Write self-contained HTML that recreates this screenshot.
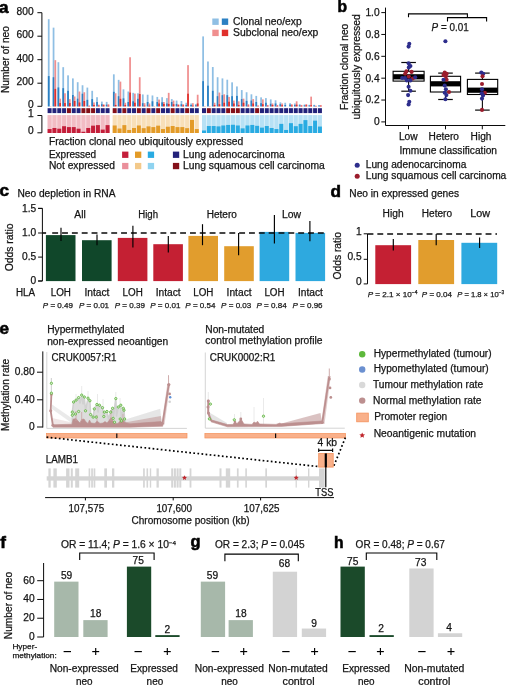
<!DOCTYPE html>
<html><head><meta charset="utf-8"><title>Figure</title>
<style>
html,body{margin:0;padding:0;background:#fff;}
body{width:508px;height:685px;overflow:hidden;}
svg{display:block;font-family:"Liberation Sans",sans-serif;}
text{stroke:#151515;stroke-width:0.25px;}
text.b{stroke:#000;stroke-width:0.55px;}
</style></head><body>
<svg width="508" height="685" viewBox="0 0 508 685">
<rect x="0" y="0" width="508" height="685" fill="#ffffff"/>
<text x="-1.00" y="13.40" font-size="15.6" text-anchor="start" textLength="9.54" lengthAdjust="spacingAndGlyphs" fill="#000" font-weight="bold" class="b">a</text>
<path d="M37.4 12.7H41.9V106.3H37.4" stroke="#0a0a0a" stroke-width="1.0" fill="none" />
<line x1="37.40" y1="36.20" x2="41.90" y2="36.20" stroke="#0a0a0a" stroke-width="1.0" />
<line x1="37.40" y1="59.70" x2="41.90" y2="59.70" stroke="#0a0a0a" stroke-width="1.0" />
<line x1="37.40" y1="83.20" x2="41.90" y2="83.20" stroke="#0a0a0a" stroke-width="1.0" />
<text x="33.60" y="14.70" font-size="10.0" text-anchor="end" textLength="17.02" lengthAdjust="spacingAndGlyphs" fill="#151515">800</text>
<text x="33.60" y="38.20" font-size="10.0" text-anchor="end" textLength="17.02" lengthAdjust="spacingAndGlyphs" fill="#151515">600</text>
<text x="33.60" y="61.70" font-size="10.0" text-anchor="end" textLength="17.02" lengthAdjust="spacingAndGlyphs" fill="#151515">400</text>
<text x="33.60" y="85.20" font-size="10.0" text-anchor="end" textLength="17.02" lengthAdjust="spacingAndGlyphs" fill="#151515">200</text>
<text x="33.60" y="108.30" font-size="10.0" text-anchor="end" textLength="5.67" lengthAdjust="spacingAndGlyphs" fill="#151515">0</text>
<text x="9.40" y="59.60" font-size="10.0" text-anchor="middle" textLength="66.80" lengthAdjust="spacingAndGlyphs" fill="#151515" transform="rotate(-90 9.40 59.60)">Number of neo</text>
<path d="M37.4 115.5H41.9V132.8H37.4" stroke="#0a0a0a" stroke-width="1.0" fill="none" />
<text x="33.60" y="117.30" font-size="10.0" text-anchor="end" textLength="5.67" lengthAdjust="spacingAndGlyphs" fill="#151515">1</text>
<text x="33.60" y="134.30" font-size="10.0" text-anchor="end" textLength="5.67" lengthAdjust="spacingAndGlyphs" fill="#151515">0</text>
<rect x="47.60" y="115.10" width="61.96" height="17.90" fill="#f2bcc4" opacity="0.4"/>
<rect x="47.85" y="19.19" width="1.75" height="87.21" fill="#8fbfe4" />
<rect x="47.85" y="76.07" width="1.75" height="30.33" fill="#2b80c3" />
<rect x="49.60" y="106.11" width="1.75" height="0.29" fill="#f08f8f" />
<rect x="47.60" y="108.20" width="4.00" height="4.90" fill="#23227a" />
<rect x="47.60" y="115.10" width="4.00" height="17.90" fill="#f2bcc4" />
<rect x="47.60" y="129.06" width="4.00" height="3.94" fill="#c41e3a" />
<rect x="52.68" y="27.65" width="1.75" height="78.75" fill="#8fbfe4" />
<rect x="52.68" y="77.23" width="1.75" height="29.17" fill="#2b80c3" />
<rect x="54.43" y="60.17" width="1.75" height="46.23" fill="#f08f8f" />
<rect x="54.43" y="88.90" width="1.75" height="17.50" fill="#e0302c" />
<rect x="52.43" y="108.20" width="4.00" height="4.90" fill="#23227a" />
<rect x="52.43" y="115.10" width="4.00" height="17.90" fill="#f2bcc4" />
<rect x="52.43" y="127.99" width="4.00" height="5.01" fill="#c41e3a" />
<rect x="57.51" y="62.21" width="1.75" height="44.19" fill="#8fbfe4" />
<rect x="57.51" y="87.44" width="1.75" height="18.96" fill="#2b80c3" />
<rect x="59.26" y="98.67" width="1.75" height="7.73" fill="#f08f8f" />
<rect x="59.26" y="103.05" width="1.75" height="3.35" fill="#e0302c" />
<rect x="57.26" y="108.20" width="4.00" height="4.90" fill="#23227a" />
<rect x="57.26" y="115.10" width="4.00" height="17.90" fill="#f2bcc4" />
<rect x="57.26" y="128.70" width="4.00" height="4.30" fill="#c41e3a" />
<rect x="62.34" y="67.17" width="1.75" height="39.23" fill="#8fbfe4" />
<rect x="62.34" y="88.17" width="1.75" height="18.23" fill="#2b80c3" />
<rect x="64.09" y="93.27" width="1.75" height="13.13" fill="#f08f8f" />
<rect x="64.09" y="103.05" width="1.75" height="3.35" fill="#e0302c" />
<rect x="62.09" y="108.20" width="4.00" height="4.90" fill="#23227a" />
<rect x="62.09" y="115.10" width="4.00" height="17.90" fill="#f2bcc4" />
<rect x="62.09" y="126.20" width="4.00" height="6.80" fill="#c41e3a" />
<rect x="67.17" y="75.34" width="1.75" height="31.06" fill="#8fbfe4" />
<rect x="67.17" y="90.80" width="1.75" height="15.60" fill="#2b80c3" />
<rect x="68.92" y="99.11" width="1.75" height="7.29" fill="#f08f8f" />
<rect x="68.92" y="103.05" width="1.75" height="3.35" fill="#e0302c" />
<rect x="66.92" y="108.20" width="4.00" height="4.90" fill="#84101a" />
<rect x="66.92" y="115.10" width="4.00" height="17.90" fill="#f2bcc4" />
<rect x="66.92" y="127.09" width="4.00" height="5.91" fill="#c41e3a" />
<rect x="72.00" y="78.40" width="1.75" height="28.00" fill="#8fbfe4" />
<rect x="72.00" y="95.02" width="1.75" height="11.38" fill="#2b80c3" />
<rect x="73.75" y="96.48" width="1.75" height="9.92" fill="#f08f8f" />
<rect x="73.75" y="101.00" width="1.75" height="5.40" fill="#e0302c" />
<rect x="71.75" y="108.20" width="4.00" height="4.90" fill="#23227a" />
<rect x="71.75" y="115.10" width="4.00" height="17.90" fill="#f2bcc4" />
<rect x="71.75" y="127.09" width="4.00" height="5.91" fill="#c41e3a" />
<rect x="76.83" y="82.19" width="1.75" height="24.21" fill="#8fbfe4" />
<rect x="76.83" y="98.67" width="1.75" height="7.73" fill="#2b80c3" />
<rect x="78.58" y="91.52" width="1.75" height="14.88" fill="#f08f8f" />
<rect x="78.58" y="102.46" width="1.75" height="3.94" fill="#e0302c" />
<rect x="76.58" y="108.20" width="4.00" height="4.90" fill="#23227a" />
<rect x="76.58" y="115.10" width="4.00" height="17.90" fill="#f2bcc4" />
<rect x="76.58" y="128.70" width="4.00" height="4.30" fill="#c41e3a" />
<rect x="81.66" y="85.25" width="1.75" height="21.15" fill="#8fbfe4" />
<rect x="81.66" y="93.71" width="1.75" height="12.69" fill="#2b80c3" />
<rect x="83.41" y="92.25" width="1.75" height="14.15" fill="#f08f8f" />
<rect x="83.41" y="101.00" width="1.75" height="5.40" fill="#e0302c" />
<rect x="81.41" y="108.20" width="4.00" height="4.90" fill="#84101a" />
<rect x="81.41" y="115.10" width="4.00" height="17.90" fill="#f2bcc4" />
<rect x="81.41" y="131.75" width="4.00" height="1.25" fill="#c41e3a" />
<rect x="86.49" y="87.59" width="1.75" height="18.81" fill="#8fbfe4" />
<rect x="86.49" y="99.84" width="1.75" height="6.56" fill="#2b80c3" />
<rect x="88.24" y="105.38" width="1.75" height="1.02" fill="#f08f8f" />
<rect x="88.24" y="106.11" width="1.75" height="0.29" fill="#e0302c" />
<rect x="86.24" y="108.20" width="4.00" height="4.90" fill="#84101a" />
<rect x="86.24" y="115.10" width="4.00" height="17.90" fill="#f2bcc4" />
<rect x="86.24" y="127.99" width="4.00" height="5.01" fill="#c41e3a" />
<rect x="91.32" y="90.80" width="1.75" height="15.60" fill="#8fbfe4" />
<rect x="91.32" y="99.11" width="1.75" height="7.29" fill="#2b80c3" />
<rect x="93.07" y="102.46" width="1.75" height="3.94" fill="#f08f8f" />
<rect x="93.07" y="104.94" width="1.75" height="1.46" fill="#e0302c" />
<rect x="91.07" y="108.20" width="4.00" height="4.90" fill="#84101a" />
<rect x="91.07" y="115.10" width="4.00" height="17.90" fill="#f2bcc4" />
<rect x="91.07" y="125.66" width="4.00" height="7.34" fill="#c41e3a" />
<rect x="96.15" y="97.21" width="1.75" height="9.19" fill="#8fbfe4" />
<rect x="96.15" y="102.02" width="1.75" height="4.38" fill="#2b80c3" />
<rect x="97.90" y="104.65" width="1.75" height="1.75" fill="#f08f8f" />
<rect x="97.90" y="105.67" width="1.75" height="0.73" fill="#e0302c" />
<rect x="95.90" y="108.20" width="4.00" height="4.90" fill="#23227a" />
<rect x="95.90" y="115.10" width="4.00" height="17.90" fill="#f2bcc4" />
<rect x="95.90" y="125.12" width="4.00" height="7.88" fill="#c41e3a" />
<rect x="100.98" y="101.59" width="1.75" height="4.81" fill="#8fbfe4" />
<rect x="100.98" y="104.21" width="1.75" height="2.19" fill="#2b80c3" />
<rect x="102.73" y="104.21" width="1.75" height="2.19" fill="#f08f8f" />
<rect x="102.73" y="105.23" width="1.75" height="1.17" fill="#e0302c" />
<rect x="100.73" y="108.20" width="4.00" height="4.90" fill="#23227a" />
<rect x="100.73" y="115.10" width="4.00" height="17.90" fill="#f2bcc4" />
<rect x="100.73" y="129.60" width="4.00" height="3.40" fill="#c41e3a" />
<rect x="105.81" y="101.88" width="1.75" height="4.52" fill="#8fbfe4" />
<rect x="105.81" y="104.65" width="1.75" height="1.75" fill="#2b80c3" />
<rect x="107.56" y="104.21" width="1.75" height="2.19" fill="#f08f8f" />
<rect x="107.56" y="105.67" width="1.75" height="0.73" fill="#e0302c" />
<rect x="105.56" y="108.20" width="4.00" height="4.90" fill="#23227a" />
<rect x="105.56" y="115.10" width="4.00" height="17.90" fill="#f2bcc4" />
<rect x="105.56" y="125.12" width="4.00" height="7.88" fill="#c41e3a" />
<rect x="112.70" y="115.10" width="86.11" height="17.90" fill="#f8dfb8" opacity="0.4"/>
<rect x="112.95" y="74.32" width="1.75" height="32.08" fill="#8fbfe4" />
<rect x="112.95" y="91.82" width="1.75" height="14.58" fill="#2b80c3" />
<rect x="114.70" y="93.27" width="1.75" height="13.13" fill="#f08f8f" />
<rect x="114.70" y="104.94" width="1.75" height="1.46" fill="#e0302c" />
<rect x="112.70" y="108.20" width="4.00" height="4.90" fill="#84101a" />
<rect x="112.70" y="115.10" width="4.00" height="17.90" fill="#f8dfb8" />
<rect x="112.70" y="125.48" width="4.00" height="7.52" fill="#e39b28" />
<rect x="117.78" y="79.86" width="1.75" height="26.54" fill="#8fbfe4" />
<rect x="117.78" y="96.19" width="1.75" height="10.21" fill="#2b80c3" />
<rect x="119.53" y="81.61" width="1.75" height="24.79" fill="#f08f8f" />
<rect x="119.53" y="98.82" width="1.75" height="7.58" fill="#e0302c" />
<rect x="117.53" y="108.20" width="4.00" height="4.90" fill="#23227a" />
<rect x="117.53" y="115.10" width="4.00" height="17.90" fill="#f8dfb8" />
<rect x="117.53" y="128.53" width="4.00" height="4.47" fill="#e39b28" />
<rect x="122.61" y="89.34" width="1.75" height="17.06" fill="#8fbfe4" />
<rect x="122.61" y="98.38" width="1.75" height="8.02" fill="#2b80c3" />
<rect x="124.36" y="102.75" width="1.75" height="3.65" fill="#f08f8f" />
<rect x="124.36" y="104.94" width="1.75" height="1.46" fill="#e0302c" />
<rect x="122.36" y="108.20" width="4.00" height="4.90" fill="#84101a" />
<rect x="122.36" y="115.10" width="4.00" height="17.90" fill="#f8dfb8" />
<rect x="122.36" y="125.12" width="4.00" height="7.88" fill="#e39b28" />
<rect x="127.44" y="91.52" width="1.75" height="14.88" fill="#8fbfe4" />
<rect x="127.44" y="102.02" width="1.75" height="4.38" fill="#2b80c3" />
<rect x="129.19" y="57.25" width="1.75" height="49.15" fill="#f08f8f" />
<rect x="129.19" y="92.55" width="1.75" height="13.85" fill="#e0302c" />
<rect x="127.19" y="108.20" width="4.00" height="4.90" fill="#23227a" />
<rect x="127.19" y="115.10" width="4.00" height="17.90" fill="#f8dfb8" />
<rect x="127.19" y="129.96" width="4.00" height="3.04" fill="#e39b28" />
<rect x="132.27" y="92.84" width="1.75" height="13.56" fill="#8fbfe4" />
<rect x="132.27" y="101.30" width="1.75" height="5.10" fill="#2b80c3" />
<rect x="134.02" y="93.57" width="1.75" height="12.83" fill="#f08f8f" />
<rect x="134.02" y="102.75" width="1.75" height="3.65" fill="#e0302c" />
<rect x="132.02" y="108.20" width="4.00" height="4.90" fill="#23227a" />
<rect x="132.02" y="115.10" width="4.00" height="17.90" fill="#f8dfb8" />
<rect x="132.02" y="127.99" width="4.00" height="5.01" fill="#e39b28" />
<rect x="137.10" y="93.27" width="1.75" height="13.13" fill="#8fbfe4" />
<rect x="137.10" y="98.82" width="1.75" height="7.58" fill="#2b80c3" />
<rect x="138.85" y="77.23" width="1.75" height="29.17" fill="#f08f8f" />
<rect x="138.85" y="94.00" width="1.75" height="12.40" fill="#e0302c" />
<rect x="136.85" y="108.20" width="4.00" height="4.90" fill="#84101a" />
<rect x="136.85" y="115.10" width="4.00" height="17.90" fill="#f8dfb8" />
<rect x="136.85" y="125.48" width="4.00" height="7.52" fill="#e39b28" />
<rect x="141.93" y="94.44" width="1.75" height="11.96" fill="#8fbfe4" />
<rect x="141.93" y="103.19" width="1.75" height="3.21" fill="#2b80c3" />
<rect x="143.68" y="103.19" width="1.75" height="3.21" fill="#f08f8f" />
<rect x="143.68" y="105.67" width="1.75" height="0.73" fill="#e0302c" />
<rect x="141.68" y="108.20" width="4.00" height="4.90" fill="#23227a" />
<rect x="141.68" y="115.10" width="4.00" height="17.90" fill="#f8dfb8" />
<rect x="141.68" y="128.17" width="4.00" height="4.83" fill="#e39b28" />
<rect x="146.76" y="94.73" width="1.75" height="11.67" fill="#8fbfe4" />
<rect x="146.76" y="102.02" width="1.75" height="4.38" fill="#2b80c3" />
<rect x="148.51" y="103.48" width="1.75" height="2.92" fill="#f08f8f" />
<rect x="148.51" y="105.67" width="1.75" height="0.73" fill="#e0302c" />
<rect x="146.51" y="108.20" width="4.00" height="4.90" fill="#84101a" />
<rect x="146.51" y="115.10" width="4.00" height="17.90" fill="#f8dfb8" />
<rect x="146.51" y="126.38" width="4.00" height="6.62" fill="#e39b28" />
<rect x="151.59" y="95.46" width="1.75" height="10.94" fill="#8fbfe4" />
<rect x="151.59" y="101.30" width="1.75" height="5.10" fill="#2b80c3" />
<rect x="153.34" y="105.96" width="1.75" height="0.44" fill="#f08f8f" />
<rect x="151.34" y="108.20" width="4.00" height="4.90" fill="#23227a" />
<rect x="151.34" y="115.10" width="4.00" height="17.90" fill="#f8dfb8" />
<rect x="151.34" y="127.09" width="4.00" height="5.91" fill="#e39b28" />
<rect x="156.42" y="96.92" width="1.75" height="9.48" fill="#8fbfe4" />
<rect x="156.42" y="102.02" width="1.75" height="4.38" fill="#2b80c3" />
<rect x="158.17" y="99.55" width="1.75" height="6.85" fill="#f08f8f" />
<rect x="158.17" y="103.48" width="1.75" height="2.92" fill="#e0302c" />
<rect x="156.17" y="108.20" width="4.00" height="4.90" fill="#84101a" />
<rect x="156.17" y="115.10" width="4.00" height="17.90" fill="#f8dfb8" />
<rect x="156.17" y="125.66" width="4.00" height="7.34" fill="#e39b28" />
<rect x="161.25" y="97.21" width="1.75" height="9.19" fill="#8fbfe4" />
<rect x="161.25" y="102.32" width="1.75" height="4.08" fill="#2b80c3" />
<rect x="163.00" y="102.02" width="1.75" height="4.38" fill="#f08f8f" />
<rect x="163.00" y="103.92" width="1.75" height="2.48" fill="#e0302c" />
<rect x="161.00" y="108.20" width="4.00" height="4.90" fill="#23227a" />
<rect x="161.00" y="115.10" width="4.00" height="17.90" fill="#f8dfb8" />
<rect x="161.00" y="129.06" width="4.00" height="3.94" fill="#e39b28" />
<rect x="166.08" y="98.09" width="1.75" height="8.31" fill="#8fbfe4" />
<rect x="166.08" y="103.48" width="1.75" height="2.92" fill="#2b80c3" />
<rect x="167.83" y="92.84" width="1.75" height="13.56" fill="#f08f8f" />
<rect x="167.83" y="103.92" width="1.75" height="2.48" fill="#e0302c" />
<rect x="165.83" y="108.20" width="4.00" height="4.90" fill="#23227a" />
<rect x="165.83" y="115.10" width="4.00" height="17.90" fill="#f8dfb8" />
<rect x="165.83" y="126.73" width="4.00" height="6.26" fill="#e39b28" />
<rect x="170.91" y="99.11" width="1.75" height="7.29" fill="#8fbfe4" />
<rect x="170.91" y="102.02" width="1.75" height="4.38" fill="#2b80c3" />
<rect x="172.66" y="100.57" width="1.75" height="5.83" fill="#f08f8f" />
<rect x="172.66" y="104.21" width="1.75" height="2.19" fill="#e0302c" />
<rect x="170.66" y="108.20" width="4.00" height="4.90" fill="#84101a" />
<rect x="170.66" y="115.10" width="4.00" height="17.90" fill="#f8dfb8" />
<rect x="170.66" y="126.02" width="4.00" height="6.98" fill="#e39b28" />
<rect x="175.74" y="100.57" width="1.75" height="5.83" fill="#8fbfe4" />
<rect x="175.74" y="103.92" width="1.75" height="2.48" fill="#2b80c3" />
<rect x="177.49" y="104.21" width="1.75" height="2.19" fill="#f08f8f" />
<rect x="177.49" y="105.23" width="1.75" height="1.17" fill="#e0302c" />
<rect x="175.49" y="108.20" width="4.00" height="4.90" fill="#23227a" />
<rect x="175.49" y="115.10" width="4.00" height="17.90" fill="#f8dfb8" />
<rect x="175.49" y="127.09" width="4.00" height="5.91" fill="#e39b28" />
<rect x="180.57" y="101.00" width="1.75" height="5.40" fill="#8fbfe4" />
<rect x="180.57" y="104.21" width="1.75" height="2.19" fill="#2b80c3" />
<rect x="182.32" y="104.21" width="1.75" height="2.19" fill="#f08f8f" />
<rect x="182.32" y="105.38" width="1.75" height="1.02" fill="#e0302c" />
<rect x="180.32" y="108.20" width="4.00" height="4.90" fill="#23227a" />
<rect x="180.32" y="115.10" width="4.00" height="17.90" fill="#f8dfb8" />
<rect x="180.32" y="127.09" width="4.00" height="5.91" fill="#e39b28" />
<rect x="185.40" y="102.75" width="1.75" height="3.65" fill="#8fbfe4" />
<rect x="185.40" y="104.94" width="1.75" height="1.46" fill="#2b80c3" />
<rect x="187.15" y="65.13" width="1.75" height="41.27" fill="#f08f8f" />
<rect x="187.15" y="93.71" width="1.75" height="12.69" fill="#e0302c" />
<rect x="185.15" y="108.20" width="4.00" height="4.90" fill="#84101a" />
<rect x="185.15" y="115.10" width="4.00" height="17.90" fill="#f8dfb8" />
<rect x="185.15" y="128.17" width="4.00" height="4.83" fill="#e39b28" />
<rect x="190.23" y="103.48" width="1.75" height="2.92" fill="#8fbfe4" />
<rect x="190.23" y="104.94" width="1.75" height="1.46" fill="#2b80c3" />
<rect x="191.98" y="103.19" width="1.75" height="3.21" fill="#f08f8f" />
<rect x="191.98" y="105.67" width="1.75" height="0.73" fill="#e0302c" />
<rect x="189.98" y="108.20" width="4.00" height="4.90" fill="#23227a" />
<rect x="189.98" y="115.10" width="4.00" height="17.90" fill="#f8dfb8" />
<rect x="189.98" y="119.93" width="4.00" height="13.07" fill="#e39b28" />
<rect x="195.06" y="103.92" width="1.75" height="2.48" fill="#8fbfe4" />
<rect x="195.06" y="105.23" width="1.75" height="1.17" fill="#2b80c3" />
<rect x="196.81" y="94.73" width="1.75" height="11.67" fill="#f08f8f" />
<rect x="196.81" y="103.48" width="1.75" height="2.92" fill="#e0302c" />
<rect x="194.81" y="108.20" width="4.00" height="4.90" fill="#23227a" />
<rect x="194.81" y="115.10" width="4.00" height="17.90" fill="#f8dfb8" />
<rect x="194.81" y="129.06" width="4.00" height="3.94" fill="#e39b28" />
<rect x="202.00" y="115.10" width="119.92" height="17.90" fill="#b7e1f5" opacity="0.4"/>
<rect x="202.25" y="36.40" width="1.75" height="70.00" fill="#8fbfe4" />
<rect x="202.25" y="81.17" width="1.75" height="25.23" fill="#2b80c3" />
<rect x="204.00" y="105.96" width="1.75" height="0.44" fill="#f08f8f" />
<rect x="202.00" y="108.20" width="4.00" height="4.90" fill="#23227a" />
<rect x="202.00" y="115.10" width="4.00" height="17.90" fill="#b7e1f5" />
<rect x="202.00" y="130.49" width="4.00" height="2.51" fill="#29abe2" />
<rect x="207.08" y="61.48" width="1.75" height="44.92" fill="#8fbfe4" />
<rect x="207.08" y="85.69" width="1.75" height="20.71" fill="#2b80c3" />
<rect x="208.83" y="105.96" width="1.75" height="0.44" fill="#f08f8f" />
<rect x="206.83" y="108.20" width="4.00" height="4.90" fill="#84101a" />
<rect x="206.83" y="115.10" width="4.00" height="17.90" fill="#b7e1f5" />
<rect x="206.83" y="126.02" width="4.00" height="6.98" fill="#29abe2" />
<rect x="211.91" y="67.02" width="1.75" height="39.38" fill="#8fbfe4" />
<rect x="211.91" y="90.80" width="1.75" height="15.60" fill="#2b80c3" />
<rect x="213.66" y="102.75" width="1.75" height="3.65" fill="#f08f8f" />
<rect x="213.66" y="104.94" width="1.75" height="1.46" fill="#e0302c" />
<rect x="211.66" y="108.20" width="4.00" height="4.90" fill="#23227a" />
<rect x="211.66" y="115.10" width="4.00" height="17.90" fill="#b7e1f5" />
<rect x="211.66" y="126.02" width="4.00" height="6.98" fill="#29abe2" />
<rect x="216.74" y="77.23" width="1.75" height="29.17" fill="#8fbfe4" />
<rect x="216.74" y="96.19" width="1.75" height="10.21" fill="#2b80c3" />
<rect x="218.49" y="92.55" width="1.75" height="13.85" fill="#f08f8f" />
<rect x="218.49" y="104.21" width="1.75" height="2.19" fill="#e0302c" />
<rect x="216.49" y="108.20" width="4.00" height="4.90" fill="#23227a" />
<rect x="216.49" y="115.10" width="4.00" height="17.90" fill="#b7e1f5" />
<rect x="216.49" y="126.38" width="4.00" height="6.62" fill="#29abe2" />
<rect x="221.57" y="78.40" width="1.75" height="28.00" fill="#8fbfe4" />
<rect x="221.57" y="95.17" width="1.75" height="11.23" fill="#2b80c3" />
<rect x="223.32" y="94.30" width="1.75" height="12.10" fill="#f08f8f" />
<rect x="223.32" y="102.75" width="1.75" height="3.65" fill="#e0302c" />
<rect x="221.32" y="108.20" width="4.00" height="4.90" fill="#23227a" />
<rect x="221.32" y="115.10" width="4.00" height="17.90" fill="#b7e1f5" />
<rect x="221.32" y="125.48" width="4.00" height="7.52" fill="#29abe2" />
<rect x="226.40" y="79.71" width="1.75" height="26.69" fill="#8fbfe4" />
<rect x="226.40" y="95.17" width="1.75" height="11.23" fill="#2b80c3" />
<rect x="228.15" y="96.92" width="1.75" height="9.48" fill="#f08f8f" />
<rect x="228.15" y="101.73" width="1.75" height="4.67" fill="#e0302c" />
<rect x="226.15" y="108.20" width="4.00" height="4.90" fill="#84101a" />
<rect x="226.15" y="115.10" width="4.00" height="17.90" fill="#b7e1f5" />
<rect x="226.15" y="124.94" width="4.00" height="8.05" fill="#29abe2" />
<rect x="231.23" y="82.34" width="1.75" height="24.06" fill="#8fbfe4" />
<rect x="231.23" y="96.19" width="1.75" height="10.21" fill="#2b80c3" />
<rect x="232.98" y="100.57" width="1.75" height="5.83" fill="#f08f8f" />
<rect x="232.98" y="103.48" width="1.75" height="2.92" fill="#e0302c" />
<rect x="230.98" y="108.20" width="4.00" height="4.90" fill="#84101a" />
<rect x="230.98" y="115.10" width="4.00" height="17.90" fill="#b7e1f5" />
<rect x="230.98" y="124.77" width="4.00" height="8.23" fill="#29abe2" />
<rect x="236.06" y="86.42" width="1.75" height="19.98" fill="#8fbfe4" />
<rect x="236.06" y="95.90" width="1.75" height="10.50" fill="#2b80c3" />
<rect x="237.81" y="101.30" width="1.75" height="5.10" fill="#f08f8f" />
<rect x="237.81" y="104.94" width="1.75" height="1.46" fill="#e0302c" />
<rect x="235.81" y="108.20" width="4.00" height="4.90" fill="#84101a" />
<rect x="235.81" y="115.10" width="4.00" height="17.90" fill="#b7e1f5" />
<rect x="235.81" y="125.48" width="4.00" height="7.52" fill="#29abe2" />
<rect x="240.89" y="90.07" width="1.75" height="16.33" fill="#8fbfe4" />
<rect x="240.89" y="99.11" width="1.75" height="7.29" fill="#2b80c3" />
<rect x="242.64" y="98.67" width="1.75" height="7.73" fill="#f08f8f" />
<rect x="242.64" y="102.75" width="1.75" height="3.65" fill="#e0302c" />
<rect x="240.64" y="108.20" width="4.00" height="4.90" fill="#23227a" />
<rect x="240.64" y="115.10" width="4.00" height="17.90" fill="#b7e1f5" />
<rect x="240.64" y="128.35" width="4.00" height="4.65" fill="#29abe2" />
<rect x="245.72" y="92.25" width="1.75" height="14.15" fill="#8fbfe4" />
<rect x="245.72" y="100.86" width="1.75" height="5.54" fill="#2b80c3" />
<rect x="247.47" y="104.21" width="1.75" height="2.19" fill="#f08f8f" />
<rect x="247.47" y="105.67" width="1.75" height="0.73" fill="#e0302c" />
<rect x="245.47" y="108.20" width="4.00" height="4.90" fill="#23227a" />
<rect x="245.47" y="115.10" width="4.00" height="17.90" fill="#b7e1f5" />
<rect x="245.47" y="125.48" width="4.00" height="7.52" fill="#29abe2" />
<rect x="250.55" y="94.30" width="1.75" height="12.10" fill="#8fbfe4" />
<rect x="250.55" y="100.57" width="1.75" height="5.83" fill="#2b80c3" />
<rect x="252.30" y="99.11" width="1.75" height="7.29" fill="#f08f8f" />
<rect x="252.30" y="103.48" width="1.75" height="2.92" fill="#e0302c" />
<rect x="250.30" y="108.20" width="4.00" height="4.90" fill="#23227a" />
<rect x="250.30" y="115.10" width="4.00" height="17.90" fill="#b7e1f5" />
<rect x="250.30" y="124.94" width="4.00" height="8.05" fill="#29abe2" />
<rect x="255.38" y="95.90" width="1.75" height="10.50" fill="#8fbfe4" />
<rect x="255.38" y="102.02" width="1.75" height="4.38" fill="#2b80c3" />
<rect x="257.13" y="105.23" width="1.75" height="1.17" fill="#f08f8f" />
<rect x="257.13" y="106.11" width="1.75" height="0.29" fill="#e0302c" />
<rect x="255.13" y="108.20" width="4.00" height="4.90" fill="#84101a" />
<rect x="255.13" y="115.10" width="4.00" height="17.90" fill="#b7e1f5" />
<rect x="255.13" y="125.84" width="4.00" height="7.16" fill="#29abe2" />
<rect x="260.21" y="97.36" width="1.75" height="9.04" fill="#8fbfe4" />
<rect x="260.21" y="103.19" width="1.75" height="3.21" fill="#2b80c3" />
<rect x="261.96" y="99.40" width="1.75" height="7.00" fill="#f08f8f" />
<rect x="261.96" y="104.21" width="1.75" height="2.19" fill="#e0302c" />
<rect x="259.96" y="108.20" width="4.00" height="4.90" fill="#23227a" />
<rect x="259.96" y="115.10" width="4.00" height="17.90" fill="#b7e1f5" />
<rect x="259.96" y="127.63" width="4.00" height="5.37" fill="#29abe2" />
<rect x="265.04" y="98.09" width="1.75" height="8.31" fill="#8fbfe4" />
<rect x="265.04" y="102.75" width="1.75" height="3.65" fill="#2b80c3" />
<rect x="266.79" y="104.94" width="1.75" height="1.46" fill="#f08f8f" />
<rect x="266.79" y="105.82" width="1.75" height="0.58" fill="#e0302c" />
<rect x="264.79" y="108.20" width="4.00" height="4.90" fill="#23227a" />
<rect x="264.79" y="115.10" width="4.00" height="17.90" fill="#b7e1f5" />
<rect x="264.79" y="126.02" width="4.00" height="6.98" fill="#29abe2" />
<rect x="269.87" y="99.40" width="1.75" height="7.00" fill="#8fbfe4" />
<rect x="269.87" y="103.77" width="1.75" height="2.63" fill="#2b80c3" />
<rect x="271.62" y="103.48" width="1.75" height="2.92" fill="#f08f8f" />
<rect x="271.62" y="104.94" width="1.75" height="1.46" fill="#e0302c" />
<rect x="269.62" y="108.20" width="4.00" height="4.90" fill="#23227a" />
<rect x="269.62" y="115.10" width="4.00" height="17.90" fill="#b7e1f5" />
<rect x="269.62" y="127.99" width="4.00" height="5.01" fill="#29abe2" />
<rect x="274.70" y="100.27" width="1.75" height="6.13" fill="#8fbfe4" />
<rect x="274.70" y="103.48" width="1.75" height="2.92" fill="#2b80c3" />
<rect x="276.45" y="104.94" width="1.75" height="1.46" fill="#f08f8f" />
<rect x="276.45" y="105.82" width="1.75" height="0.58" fill="#e0302c" />
<rect x="274.45" y="108.20" width="4.00" height="4.90" fill="#23227a" />
<rect x="274.45" y="115.10" width="4.00" height="17.90" fill="#b7e1f5" />
<rect x="274.45" y="129.06" width="4.00" height="3.94" fill="#29abe2" />
<rect x="279.53" y="102.32" width="1.75" height="4.08" fill="#8fbfe4" />
<rect x="279.53" y="104.21" width="1.75" height="2.19" fill="#2b80c3" />
<rect x="281.28" y="103.48" width="1.75" height="2.92" fill="#f08f8f" />
<rect x="281.28" y="105.23" width="1.75" height="1.17" fill="#e0302c" />
<rect x="279.28" y="108.20" width="4.00" height="4.90" fill="#23227a" />
<rect x="279.28" y="115.10" width="4.00" height="17.90" fill="#b7e1f5" />
<rect x="279.28" y="123.87" width="4.00" height="9.13" fill="#29abe2" />
<rect x="284.36" y="102.75" width="1.75" height="3.65" fill="#8fbfe4" />
<rect x="284.36" y="104.94" width="1.75" height="1.46" fill="#2b80c3" />
<rect x="284.11" y="108.20" width="4.00" height="4.90" fill="#23227a" />
<rect x="284.11" y="115.10" width="4.00" height="17.90" fill="#b7e1f5" />
<rect x="284.11" y="129.96" width="4.00" height="3.04" fill="#29abe2" />
<rect x="289.19" y="103.19" width="1.75" height="3.21" fill="#8fbfe4" />
<rect x="289.19" y="104.65" width="1.75" height="1.75" fill="#2b80c3" />
<rect x="290.94" y="104.21" width="1.75" height="2.19" fill="#f08f8f" />
<rect x="290.94" y="105.52" width="1.75" height="0.88" fill="#e0302c" />
<rect x="288.94" y="108.20" width="4.00" height="4.90" fill="#23227a" />
<rect x="288.94" y="115.10" width="4.00" height="17.90" fill="#b7e1f5" />
<rect x="288.94" y="123.16" width="4.00" height="9.85" fill="#29abe2" />
<rect x="294.02" y="103.48" width="1.75" height="2.92" fill="#8fbfe4" />
<rect x="294.02" y="104.94" width="1.75" height="1.46" fill="#2b80c3" />
<rect x="295.77" y="101.30" width="1.75" height="5.10" fill="#f08f8f" />
<rect x="295.77" y="104.65" width="1.75" height="1.75" fill="#e0302c" />
<rect x="293.77" y="108.20" width="4.00" height="4.90" fill="#23227a" />
<rect x="293.77" y="115.10" width="4.00" height="17.90" fill="#b7e1f5" />
<rect x="293.77" y="126.20" width="4.00" height="6.80" fill="#29abe2" />
<rect x="298.85" y="104.21" width="1.75" height="2.19" fill="#8fbfe4" />
<rect x="298.85" y="105.23" width="1.75" height="1.17" fill="#2b80c3" />
<rect x="300.60" y="104.94" width="1.75" height="1.46" fill="#f08f8f" />
<rect x="300.60" y="105.82" width="1.75" height="0.58" fill="#e0302c" />
<rect x="298.60" y="108.20" width="4.00" height="4.90" fill="#23227a" />
<rect x="298.60" y="115.10" width="4.00" height="17.90" fill="#b7e1f5" />
<rect x="298.60" y="123.87" width="4.00" height="9.13" fill="#29abe2" />
<rect x="303.68" y="104.50" width="1.75" height="1.90" fill="#8fbfe4" />
<rect x="303.68" y="105.38" width="1.75" height="1.02" fill="#2b80c3" />
<rect x="305.43" y="104.07" width="1.75" height="2.33" fill="#f08f8f" />
<rect x="305.43" y="105.23" width="1.75" height="1.17" fill="#e0302c" />
<rect x="303.43" y="108.20" width="4.00" height="4.90" fill="#23227a" />
<rect x="303.43" y="115.10" width="4.00" height="17.90" fill="#b7e1f5" />
<rect x="303.43" y="120.11" width="4.00" height="12.89" fill="#29abe2" />
<rect x="308.51" y="104.80" width="1.75" height="1.60" fill="#8fbfe4" />
<rect x="308.51" y="105.52" width="1.75" height="0.88" fill="#2b80c3" />
<rect x="310.26" y="96.63" width="1.75" height="9.77" fill="#f08f8f" />
<rect x="310.26" y="105.23" width="1.75" height="1.17" fill="#e0302c" />
<rect x="308.26" y="108.20" width="4.00" height="4.90" fill="#23227a" />
<rect x="308.26" y="115.10" width="4.00" height="17.90" fill="#b7e1f5" />
<rect x="308.26" y="126.02" width="4.00" height="6.98" fill="#29abe2" />
<rect x="313.34" y="104.80" width="1.75" height="1.60" fill="#8fbfe4" />
<rect x="313.34" y="105.52" width="1.75" height="0.88" fill="#2b80c3" />
<rect x="315.09" y="105.67" width="1.75" height="0.73" fill="#f08f8f" />
<rect x="315.09" y="106.11" width="1.75" height="0.29" fill="#e0302c" />
<rect x="313.09" y="108.20" width="4.00" height="4.90" fill="#23227a" />
<rect x="313.09" y="115.10" width="4.00" height="17.90" fill="#b7e1f5" />
<rect x="313.09" y="120.65" width="4.00" height="12.35" fill="#29abe2" />
<rect x="318.17" y="105.09" width="1.75" height="1.31" fill="#8fbfe4" />
<rect x="318.17" y="105.67" width="1.75" height="0.73" fill="#2b80c3" />
<rect x="319.92" y="105.09" width="1.75" height="1.31" fill="#f08f8f" />
<rect x="319.92" y="105.82" width="1.75" height="0.58" fill="#e0302c" />
<rect x="317.92" y="108.20" width="4.00" height="4.90" fill="#23227a" />
<rect x="317.92" y="115.10" width="4.00" height="17.90" fill="#b7e1f5" />
<rect x="317.92" y="126.56" width="4.00" height="6.44" fill="#29abe2" />
<rect x="212.30" y="18.50" width="6.40" height="6.40" fill="#8fbfe4" />
<rect x="221.80" y="18.50" width="6.40" height="6.40" fill="#2b80c3" />
<rect x="212.30" y="29.70" width="6.40" height="6.40" fill="#f08f8f" />
<rect x="221.80" y="29.70" width="6.40" height="6.40" fill="#e0302c" />
<text x="233.10" y="24.50" font-size="10.0" text-anchor="start" textLength="68.60" lengthAdjust="spacingAndGlyphs" fill="#151515">Clonal neo/exp</text>
<text x="233.10" y="35.90" font-size="10.0" text-anchor="start" textLength="85.30" lengthAdjust="spacingAndGlyphs" fill="#151515">Subclonal neo/exp</text>
<text x="48.90" y="144.60" font-size="10.0" text-anchor="start" textLength="194.40" lengthAdjust="spacingAndGlyphs" fill="#151515">Fraction clonal neo ubiquitously expressed</text>
<text x="48.90" y="157.50" font-size="10.0" text-anchor="start" textLength="47.30" lengthAdjust="spacingAndGlyphs" fill="#151515">Expressed</text>
<text x="48.90" y="168.70" font-size="10.0" text-anchor="start" textLength="66.00" lengthAdjust="spacingAndGlyphs" fill="#151515">Not expressed</text>
<rect x="122.10" y="151.60" width="6.30" height="6.30" fill="#c41e3a" />
<rect x="122.10" y="162.90" width="6.30" height="6.30" fill="#ea8f9b" />
<rect x="135.00" y="151.60" width="6.30" height="6.30" fill="#e39b28" />
<rect x="135.00" y="162.90" width="6.30" height="6.30" fill="#f3c98a" />
<rect x="147.80" y="151.60" width="6.30" height="6.30" fill="#29abe2" />
<rect x="147.80" y="162.90" width="6.30" height="6.30" fill="#8fd3f0" />
<rect x="172.90" y="151.60" width="6.30" height="6.30" fill="#23227a" />
<rect x="172.90" y="162.90" width="6.30" height="6.30" fill="#84101a" />
<text x="183.00" y="157.60" font-size="10.0" text-anchor="start" textLength="101.70" lengthAdjust="spacingAndGlyphs" fill="#151515">Lung adenocarcinoma</text>
<text x="183.00" y="168.70" font-size="10.0" text-anchor="start" textLength="141.80" lengthAdjust="spacingAndGlyphs" fill="#151515">Lung squamous cell carcinoma</text>
<text x="337.40" y="11.50" font-size="15.6" text-anchor="start" textLength="9.53" lengthAdjust="spacingAndGlyphs" fill="#000" font-weight="bold" class="b">b</text>
<path d="M385.5 7.6V125.5H505.3" stroke="#0a0a0a" stroke-width="1.0" fill="none" />
<line x1="381.30" y1="12.60" x2="385.50" y2="12.60" stroke="#0a0a0a" stroke-width="1.0" />
<text x="379.60" y="16.00" font-size="10.0" text-anchor="end" textLength="14.18" lengthAdjust="spacingAndGlyphs" fill="#151515">1.0</text>
<line x1="381.30" y1="34.46" x2="385.50" y2="34.46" stroke="#0a0a0a" stroke-width="1.0" />
<text x="379.60" y="37.86" font-size="10.0" text-anchor="end" textLength="14.18" lengthAdjust="spacingAndGlyphs" fill="#151515">0.8</text>
<line x1="381.30" y1="56.32" x2="385.50" y2="56.32" stroke="#0a0a0a" stroke-width="1.0" />
<text x="379.60" y="59.72" font-size="10.0" text-anchor="end" textLength="14.18" lengthAdjust="spacingAndGlyphs" fill="#151515">0.6</text>
<line x1="381.30" y1="78.18" x2="385.50" y2="78.18" stroke="#0a0a0a" stroke-width="1.0" />
<text x="379.60" y="81.58" font-size="10.0" text-anchor="end" textLength="14.18" lengthAdjust="spacingAndGlyphs" fill="#151515">0.4</text>
<line x1="381.30" y1="100.04" x2="385.50" y2="100.04" stroke="#0a0a0a" stroke-width="1.0" />
<text x="379.60" y="103.44" font-size="10.0" text-anchor="end" textLength="14.18" lengthAdjust="spacingAndGlyphs" fill="#151515">0.2</text>
<line x1="381.30" y1="121.90" x2="385.50" y2="121.90" stroke="#0a0a0a" stroke-width="1.0" />
<text x="379.60" y="125.30" font-size="10.0" text-anchor="end" textLength="5.67" lengthAdjust="spacingAndGlyphs" fill="#151515">0</text>
<line x1="408.50" y1="125.50" x2="408.50" y2="129.30" stroke="#0a0a0a" stroke-width="1.0" />
<line x1="445.50" y1="125.50" x2="445.50" y2="129.30" stroke="#0a0a0a" stroke-width="1.0" />
<line x1="482.30" y1="125.50" x2="482.30" y2="129.30" stroke="#0a0a0a" stroke-width="1.0" />
<text x="347.70" y="66.90" font-size="10.0" text-anchor="middle" textLength="86.40" lengthAdjust="spacingAndGlyphs" fill="#151515" transform="rotate(-90 347.70 66.90)">Fraction clonal neo</text>
<text x="360.10" y="66.90" font-size="10.0" text-anchor="middle" textLength="105.40" lengthAdjust="spacingAndGlyphs" fill="#151515" transform="rotate(-90 360.10 66.90)">ubiquitously expressed</text>
<path d="M408.5 17.3V13.9H467.4V17.6" stroke="#000" stroke-width="1.1" fill="none" />
<path d="M447.5 21.5V17.6H486.6V21.5" stroke="#000" stroke-width="1.1" fill="none" />
<text x="431.60" y="30.80" font-size="10.0" text-anchor="start" textLength="37.10" lengthAdjust="spacingAndGlyphs" fill="#1a1a1a"><tspan font-style="italic">P</tspan> = 0.01</text>
<line x1="408.60" y1="62.50" x2="408.60" y2="91.20" stroke="#0a0a0a" stroke-width="1.1" />
<line x1="401.30" y1="62.50" x2="415.90" y2="62.50" stroke="#0a0a0a" stroke-width="1.2" />
<line x1="401.30" y1="91.20" x2="415.90" y2="91.20" stroke="#0a0a0a" stroke-width="1.2" />
<rect x="393.1" y="71.3" width="31.00" height="9.80" fill="#fff" stroke="#000" stroke-width="1.1"/>
<rect x="393.10" y="74.20" width="31.00" height="5.20" fill="#000" />
<line x1="445.50" y1="73.10" x2="445.50" y2="99.50" stroke="#0a0a0a" stroke-width="1.1" />
<line x1="438.20" y1="73.10" x2="452.80" y2="73.10" stroke="#0a0a0a" stroke-width="1.2" />
<line x1="438.20" y1="99.50" x2="452.80" y2="99.50" stroke="#0a0a0a" stroke-width="1.2" />
<rect x="430.4" y="76.3" width="30.20" height="15.70" fill="#fff" stroke="#000" stroke-width="1.1"/>
<rect x="430.40" y="81.20" width="30.20" height="5.20" fill="#000" />
<line x1="482.40" y1="73.10" x2="482.40" y2="110.10" stroke="#0a0a0a" stroke-width="1.1" />
<line x1="475.10" y1="73.10" x2="489.70" y2="73.10" stroke="#0a0a0a" stroke-width="1.2" />
<line x1="475.10" y1="110.10" x2="489.70" y2="110.10" stroke="#0a0a0a" stroke-width="1.2" />
<rect x="467.4" y="79.4" width="30.30" height="15.10" fill="#fff" stroke="#000" stroke-width="1.1"/>
<rect x="467.40" y="87.60" width="30.30" height="5.20" fill="#000" />
<circle cx="409.30" cy="43.80" r="2.05" fill="#2d2d8c" />
<circle cx="408.60" cy="46.60" r="2.05" fill="#2d2d8c" />
<circle cx="408.60" cy="63.20" r="2.05" fill="#2d2d8c" />
<circle cx="410.40" cy="66.00" r="2.05" fill="#2d2d8c" />
<circle cx="408.80" cy="67.40" r="2.05" fill="#2d2d8c" />
<circle cx="406.40" cy="71.40" r="2.05" fill="#9b1c2c" />
<circle cx="411.60" cy="71.90" r="2.05" fill="#9b1c2c" />
<circle cx="405.20" cy="73.80" r="2.05" fill="#9b1c2c" />
<circle cx="402.20" cy="78.00" r="2.05" fill="#2d2d8c" />
<circle cx="405.00" cy="78.00" r="2.05" fill="#2d2d8c" />
<circle cx="408.80" cy="76.60" r="2.05" fill="#9b1c2c" />
<circle cx="412.80" cy="78.50" r="2.05" fill="#9b1c2c" />
<circle cx="415.20" cy="77.30" r="2.05" fill="#2d2d8c" />
<circle cx="406.90" cy="80.40" r="2.05" fill="#2d2d8c" />
<circle cx="410.40" cy="80.40" r="2.05" fill="#2d2d8c" />
<circle cx="408.60" cy="86.80" r="2.05" fill="#2d2d8c" />
<circle cx="410.40" cy="90.80" r="2.05" fill="#2d2d8c" />
<circle cx="408.10" cy="95.10" r="2.05" fill="#2d2d8c" />
<circle cx="409.30" cy="101.70" r="2.05" fill="#2d2d8c" />
<circle cx="408.60" cy="104.50" r="2.05" fill="#2d2d8c" />
<circle cx="445.40" cy="41.20" r="2.05" fill="#2d2d8c" />
<circle cx="444.70" cy="72.60" r="2.05" fill="#9b1c2c" />
<circle cx="446.60" cy="73.80" r="2.05" fill="#9b1c2c" />
<circle cx="443.50" cy="75.00" r="2.05" fill="#9b1c2c" />
<circle cx="445.90" cy="76.60" r="2.05" fill="#9b1c2c" />
<circle cx="446.60" cy="79.70" r="2.05" fill="#9b1c2c" />
<circle cx="443.50" cy="79.70" r="2.05" fill="#2d2d8c" />
<circle cx="444.70" cy="85.60" r="2.05" fill="#2d2d8c" />
<circle cx="445.90" cy="89.20" r="2.05" fill="#2d2d8c" />
<circle cx="449.00" cy="92.00" r="2.05" fill="#9b1c2c" />
<circle cx="444.70" cy="92.70" r="2.05" fill="#2d2d8c" />
<circle cx="446.40" cy="95.10" r="2.05" fill="#2d2d8c" />
<circle cx="445.40" cy="99.30" r="2.05" fill="#2d2d8c" />
<circle cx="481.30" cy="72.60" r="2.05" fill="#2d2d8c" />
<circle cx="483.20" cy="73.80" r="2.05" fill="#2d2d8c" />
<circle cx="482.50" cy="76.20" r="2.05" fill="#9b1c2c" />
<circle cx="482.00" cy="84.00" r="2.05" fill="#9b1c2c" />
<circle cx="482.00" cy="89.20" r="2.05" fill="#2d2d8c" />
<circle cx="484.90" cy="92.70" r="2.05" fill="#9b1c2c" />
<circle cx="481.80" cy="93.20" r="2.05" fill="#2d2d8c" />
<circle cx="483.00" cy="95.50" r="2.05" fill="#2d2d8c" />
<circle cx="482.00" cy="98.60" r="2.05" fill="#2d2d8c" />
<circle cx="482.00" cy="109.90" r="2.05" fill="#9b1c2c" />
<text x="408.30" y="139.80" font-size="10.0" text-anchor="middle" textLength="18.80" lengthAdjust="spacingAndGlyphs" fill="#151515">Low</text>
<text x="443.80" y="139.80" font-size="10.0" text-anchor="middle" textLength="30.40" lengthAdjust="spacingAndGlyphs" fill="#151515">Hetero</text>
<text x="481.00" y="139.80" font-size="10.0" text-anchor="middle" textLength="20.90" lengthAdjust="spacingAndGlyphs" fill="#151515">High</text>
<text x="399.50" y="154.00" font-size="10.0" text-anchor="start" textLength="97.50" lengthAdjust="spacingAndGlyphs" fill="#151515">Immune classification</text>
<circle cx="357.20" cy="165.30" r="2.5" fill="#2d2d8c" />
<circle cx="357.20" cy="176.20" r="2.5" fill="#9b1c2c" />
<text x="365.80" y="168.40" font-size="10.0" text-anchor="start" textLength="100.50" lengthAdjust="spacingAndGlyphs" fill="#151515">Lung adenocarcinoma</text>
<text x="365.80" y="179.30" font-size="10.0" text-anchor="start" textLength="140.50" lengthAdjust="spacingAndGlyphs" fill="#151515">Lung squamous cell carcinoma</text>
<text x="-0.60" y="196.20" font-size="15.6" text-anchor="start" textLength="9.54" lengthAdjust="spacingAndGlyphs" fill="#000" font-weight="bold" class="b">c</text>
<text x="17.40" y="196.70" font-size="10.0" text-anchor="start" textLength="98.10" lengthAdjust="spacingAndGlyphs" fill="#151515">Neo depletion in RNA</text>
<path d="M38.1 208.4H42.4V281.0H38.1" stroke="#0a0a0a" stroke-width="1.0" fill="none" />
<line x1="38.10" y1="208.40" x2="42.40" y2="208.40" stroke="#0a0a0a" stroke-width="1.0" />
<text x="36.30" y="211.60" font-size="10.0" text-anchor="end" textLength="14.18" lengthAdjust="spacingAndGlyphs" fill="#151515">1.5</text>
<line x1="38.10" y1="233.00" x2="42.40" y2="233.00" stroke="#0a0a0a" stroke-width="1.0" />
<text x="36.30" y="236.20" font-size="10.0" text-anchor="end" textLength="14.18" lengthAdjust="spacingAndGlyphs" fill="#151515">1.0</text>
<line x1="38.10" y1="257.10" x2="42.40" y2="257.10" stroke="#0a0a0a" stroke-width="1.0" />
<text x="36.30" y="260.30" font-size="10.0" text-anchor="end" textLength="14.18" lengthAdjust="spacingAndGlyphs" fill="#151515">0.5</text>
<line x1="38.10" y1="281.00" x2="42.40" y2="281.00" stroke="#0a0a0a" stroke-width="1.0" />
<text x="36.30" y="284.20" font-size="10.0" text-anchor="end" textLength="5.67" lengthAdjust="spacingAndGlyphs" fill="#151515">0</text>
<text x="13.30" y="247.40" font-size="10.0" text-anchor="middle" textLength="47.90" lengthAdjust="spacingAndGlyphs" fill="#151515" transform="rotate(-90 13.30 247.40)">Odds ratio</text>
<rect x="45.90" y="235.10" width="29.60" height="46.00" fill="#10472a" />
<rect x="82.00" y="240.20" width="29.60" height="40.90" fill="#10472a" />
<rect x="117.80" y="237.90" width="29.60" height="43.20" fill="#c42033" />
<rect x="153.30" y="244.20" width="29.60" height="36.90" fill="#c42033" />
<rect x="188.40" y="235.90" width="29.60" height="45.20" fill="#e19d2d" />
<rect x="224.20" y="246.20" width="29.60" height="34.90" fill="#e19d2d" />
<rect x="259.60" y="231.90" width="29.60" height="49.20" fill="#2ea9df" />
<rect x="295.50" y="232.90" width="29.60" height="48.20" fill="#2ea9df" />
<line x1="42.40" y1="233.00" x2="46.10" y2="233.00" stroke="#0a0a0a" stroke-width="1.6" />
<line x1="52.20" y1="233.00" x2="327.40" y2="233.00" stroke="#0a0a0a" stroke-width="1.6" stroke-dasharray="5.9 3.94"/>
<line x1="61.00" y1="227.80" x2="61.00" y2="241.00" stroke="#000" stroke-width="1.15" />
<line x1="97.00" y1="234.50" x2="97.00" y2="245.20" stroke="#000" stroke-width="1.15" />
<line x1="132.90" y1="225.80" x2="132.90" y2="247.60" stroke="#000" stroke-width="1.15" />
<line x1="168.30" y1="235.90" x2="168.30" y2="252.50" stroke="#000" stroke-width="1.15" />
<line x1="202.50" y1="224.20" x2="202.50" y2="245.20" stroke="#000" stroke-width="1.15" />
<line x1="238.60" y1="232.90" x2="238.60" y2="255.30" stroke="#000" stroke-width="1.15" />
<line x1="274.40" y1="215.10" x2="274.40" y2="243.60" stroke="#000" stroke-width="1.15" />
<line x1="309.90" y1="221.10" x2="309.90" y2="241.20" stroke="#000" stroke-width="1.15" />
<text x="80.00" y="217.50" font-size="10.0" text-anchor="middle" textLength="11.40" lengthAdjust="spacingAndGlyphs" fill="#151515">All</text>
<text x="148.10" y="217.50" font-size="10.0" text-anchor="middle" textLength="19.80" lengthAdjust="spacingAndGlyphs" fill="#151515">High</text>
<text x="221.80" y="217.50" font-size="10.0" text-anchor="middle" textLength="30.10" lengthAdjust="spacingAndGlyphs" fill="#151515">Hetero</text>
<text x="291.60" y="217.50" font-size="10.0" text-anchor="middle" textLength="19.10" lengthAdjust="spacingAndGlyphs" fill="#151515">Low</text>
<text x="16.00" y="295.90" font-size="10.0" text-anchor="start" textLength="19.10" lengthAdjust="spacingAndGlyphs" fill="#151515">HLA</text>
<text x="60.80" y="295.90" font-size="10.0" text-anchor="middle" textLength="20.20" lengthAdjust="spacingAndGlyphs" fill="#151515">LOH</text>
<text x="96.90" y="295.90" font-size="10.0" text-anchor="middle" textLength="25.00" lengthAdjust="spacingAndGlyphs" fill="#151515">Intact</text>
<text x="132.70" y="295.90" font-size="10.0" text-anchor="middle" textLength="20.20" lengthAdjust="spacingAndGlyphs" fill="#151515">LOH</text>
<text x="168.20" y="295.90" font-size="10.0" text-anchor="middle" textLength="25.00" lengthAdjust="spacingAndGlyphs" fill="#151515">Intact</text>
<text x="203.30" y="295.90" font-size="10.0" text-anchor="middle" textLength="20.20" lengthAdjust="spacingAndGlyphs" fill="#151515">LOH</text>
<text x="239.10" y="295.90" font-size="10.0" text-anchor="middle" textLength="25.00" lengthAdjust="spacingAndGlyphs" fill="#151515">Intact</text>
<text x="274.50" y="295.90" font-size="10.0" text-anchor="middle" textLength="20.20" lengthAdjust="spacingAndGlyphs" fill="#151515">LOH</text>
<text x="310.40" y="295.90" font-size="10.0" text-anchor="middle" textLength="25.00" lengthAdjust="spacingAndGlyphs" fill="#151515">Intact</text>
<text x="57.90" y="308.40" font-size="8.1" text-anchor="middle" textLength="30.20" lengthAdjust="spacingAndGlyphs" fill="#1a1a1a"><tspan font-style="italic">P</tspan> = 0.49</text>
<text x="94.00" y="308.40" font-size="8.1" text-anchor="middle" textLength="30.20" lengthAdjust="spacingAndGlyphs" fill="#1a1a1a"><tspan font-style="italic">P</tspan> = 0.01</text>
<text x="129.80" y="308.40" font-size="8.1" text-anchor="middle" textLength="30.20" lengthAdjust="spacingAndGlyphs" fill="#1a1a1a"><tspan font-style="italic">P</tspan> = 0.39</text>
<text x="165.30" y="308.40" font-size="8.1" text-anchor="middle" textLength="30.20" lengthAdjust="spacingAndGlyphs" fill="#1a1a1a"><tspan font-style="italic">P</tspan> = 0.01</text>
<text x="200.40" y="308.40" font-size="8.1" text-anchor="middle" textLength="30.20" lengthAdjust="spacingAndGlyphs" fill="#1a1a1a"><tspan font-style="italic">P</tspan> = 0.54</text>
<text x="236.20" y="308.40" font-size="8.1" text-anchor="middle" textLength="30.20" lengthAdjust="spacingAndGlyphs" fill="#1a1a1a"><tspan font-style="italic">P</tspan> = 0.03</text>
<text x="271.60" y="308.40" font-size="8.1" text-anchor="middle" textLength="30.20" lengthAdjust="spacingAndGlyphs" fill="#1a1a1a"><tspan font-style="italic">P</tspan> = 0.84</text>
<text x="307.50" y="308.40" font-size="8.1" text-anchor="middle" textLength="30.20" lengthAdjust="spacingAndGlyphs" fill="#1a1a1a"><tspan font-style="italic">P</tspan> = 0.96</text>
<text x="330.60" y="196.60" font-size="15.6" text-anchor="start" textLength="10.48" lengthAdjust="spacingAndGlyphs" fill="#000" font-weight="bold" class="b">d</text>
<text x="349.30" y="197.20" font-size="10.0" text-anchor="start" textLength="109.70" lengthAdjust="spacingAndGlyphs" fill="#151515">Neo in expressed genes</text>
<path d="M363.7 233.8H367.5V283.9H363.7" stroke="#0a0a0a" stroke-width="1.0" fill="none" />
<line x1="363.70" y1="259.30" x2="367.50" y2="259.30" stroke="#0a0a0a" stroke-width="1.0" />
<text x="361.60" y="235.20" font-size="10.0" text-anchor="end" textLength="5.67" lengthAdjust="spacingAndGlyphs" fill="#151515">1</text>
<text x="361.60" y="259.50" font-size="10.0" text-anchor="end" textLength="14.18" lengthAdjust="spacingAndGlyphs" fill="#151515">0.5</text>
<text x="361.60" y="285.30" font-size="10.0" text-anchor="end" textLength="5.67" lengthAdjust="spacingAndGlyphs" fill="#151515">0</text>
<text x="340.80" y="255.80" font-size="10.0" text-anchor="middle" textLength="47.40" lengthAdjust="spacingAndGlyphs" fill="#151515" transform="rotate(-90 340.80 255.80)">Odds ratio</text>
<rect x="375.30" y="245.20" width="35.80" height="38.90" fill="#c42033" />
<rect x="418.30" y="240.00" width="35.80" height="44.10" fill="#e19d2d" />
<rect x="461.40" y="242.80" width="35.80" height="41.30" fill="#2ea9df" />
<line x1="367.50" y1="234.00" x2="497.00" y2="234.00" stroke="#0a0a0a" stroke-width="1.6" stroke-dasharray="5.9 3.94"/>
<line x1="393.30" y1="239.10" x2="393.30" y2="250.50" stroke="#000" stroke-width="1.15" />
<line x1="436.20" y1="234.00" x2="436.20" y2="245.30" stroke="#000" stroke-width="1.15" />
<line x1="479.60" y1="237.60" x2="479.60" y2="248.10" stroke="#000" stroke-width="1.15" />
<text x="393.10" y="217.20" font-size="10.0" text-anchor="middle" textLength="21.00" lengthAdjust="spacingAndGlyphs" fill="#151515">High</text>
<text x="436.90" y="217.20" font-size="10.0" text-anchor="middle" textLength="30.20" lengthAdjust="spacingAndGlyphs" fill="#151515">Hetero</text>
<text x="480.10" y="217.20" font-size="10.0" text-anchor="middle" textLength="19.80" lengthAdjust="spacingAndGlyphs" fill="#151515">Low</text>
<text x="367.70" y="296.50" font-size="8.1" text-anchor="start" textLength="49.90" lengthAdjust="spacingAndGlyphs" fill="#1a1a1a"><tspan font-style="italic">P</tspan> = 2.1 × 10<tspan font-size="5.02" dy="-2.92">−4</tspan></text>
<text x="421.80" y="296.50" font-size="8.1" text-anchor="start" textLength="30.20" lengthAdjust="spacingAndGlyphs" fill="#1a1a1a"><tspan font-style="italic">P</tspan> = 0.04</text>
<text x="457.20" y="296.50" font-size="8.1" text-anchor="start" textLength="46.80" lengthAdjust="spacingAndGlyphs" fill="#1a1a1a"><tspan font-style="italic">P</tspan> = 1.8 × 10<tspan font-size="5.02" dy="-2.92">−3</tspan></text>
<text x="-0.50" y="334.20" font-size="15.6" text-anchor="start" textLength="9.54" lengthAdjust="spacingAndGlyphs" fill="#000" font-weight="bold" class="b">e</text>
<text x="47.20" y="332.80" font-size="10.0" text-anchor="start" textLength="77.20" lengthAdjust="spacingAndGlyphs" fill="#151515">Hypermethylated</text>
<text x="47.20" y="344.50" font-size="10.0" text-anchor="start" textLength="121.00" lengthAdjust="spacingAndGlyphs" fill="#151515">non-expressed neoantigen</text>
<text x="205.30" y="332.80" font-size="10.0" text-anchor="start" textLength="58.96" lengthAdjust="spacingAndGlyphs" fill="#151515">Non-mutated</text>
<text x="205.30" y="344.20" font-size="10.0" text-anchor="start" textLength="117.20" lengthAdjust="spacingAndGlyphs" fill="#151515">control methylation profile</text>
<text x="51.50" y="360.60" font-size="10.0" text-anchor="start" textLength="65.00" lengthAdjust="spacingAndGlyphs" fill="#151515">CRUK0057:R1</text>
<text x="209.80" y="360.70" font-size="10.0" text-anchor="start" textLength="65.50" lengthAdjust="spacingAndGlyphs" fill="#151515">CRUK0002:R1</text>
<path d="M42.8 351.4V427.5" stroke="#0a0a0a" stroke-width="1.0" fill="none" />
<line x1="37.00" y1="372.20" x2="42.80" y2="372.20" stroke="#0a0a0a" stroke-width="1.0" />
<text x="34.60" y="375.40" font-size="10.0" text-anchor="end" textLength="19.85" lengthAdjust="spacingAndGlyphs" fill="#151515">0.80</text>
<line x1="37.00" y1="399.80" x2="42.80" y2="399.80" stroke="#0a0a0a" stroke-width="1.0" />
<text x="34.60" y="403.00" font-size="10.0" text-anchor="end" textLength="19.85" lengthAdjust="spacingAndGlyphs" fill="#151515">0.40</text>
<line x1="37.00" y1="427.00" x2="42.80" y2="427.00" stroke="#0a0a0a" stroke-width="1.0" />
<text x="34.60" y="430.20" font-size="10.0" text-anchor="end" textLength="5.67" lengthAdjust="spacingAndGlyphs" fill="#151515">0</text>
<text x="8.80" y="395.00" font-size="10.0" text-anchor="middle" textLength="72.00" lengthAdjust="spacingAndGlyphs" fill="#151515" transform="rotate(-90 8.80 395.00)">Methylation rate</text>
<path d="M46.8 352V428.4H186.9" stroke="#c9c9c9" stroke-width="0.8" fill="none" />
<path d="M205.3 352.5V428.2H344.8" stroke="#c9c9c9" stroke-width="0.8" fill="none" />
<rect x="46.6" y="433.4" width="140.4" height="4.6" fill="#f9b08a" stroke="#f4925c" stroke-width="0.7"/>
<rect x="204.9" y="433.4" width="140.7" height="4.6" fill="#f9b08a" stroke="#f4925c" stroke-width="0.7"/>
<line x1="116.80" y1="433.40" x2="116.80" y2="438.00" stroke="#0a0a0a" stroke-width="1.2" />
<line x1="275.60" y1="433.40" x2="275.60" y2="438.00" stroke="#0a0a0a" stroke-width="1.2" />
<polygon points="52,404.5 72.3,418.5 72.3,423.5 52,409" fill="#dcdcdc" opacity="0.6"/>
<polygon points="52,418 72.3,422.5 72.3,425 52,425" fill="#bc8f8f" opacity="0.22"/>
<polygon points="124.7,419.8 160.2,408.8 161.7,423 124.7,424" fill="#dcdcdc" opacity="0.7"/>
<polygon points="124.7,422.5 160.9,415.9 162,424.5 124.7,425" fill="#bc8f8f" opacity="0.5"/>
<polygon points="72.3,424 72.3,412 73.6,402 76.1,400 78.6,397.6 80,403 81.7,395.1 83,404 84.3,397 85.5,410.8 88,398.2 89.9,400.7 90.6,414.6 93.1,417.1 94.3,408.9 96.9,404.5 98,412 99.4,405.2 102.5,407.7 103.8,416.5 104.4,412.1 106.9,411.5 108.5,419 110.7,412.1 112.6,408.3 113.2,418.4 115.8,398.6 116.5,416 118.3,407 120.8,405.2 121.4,420.9 123.3,408.3 124,410.2 124.6,419 126,424" fill="#dcdcdc" stroke="#cfcfcf" stroke-width="1.6" stroke-linejoin="round" opacity="0.95"/>
<line x1="81.70" y1="386.00" x2="81.70" y2="395.00" stroke="#e4e4e4" stroke-width="0.8" />
<line x1="97.50" y1="394.00" x2="97.50" y2="405.00" stroke="#e4e4e4" stroke-width="0.8" />
<line x1="88.00" y1="391.00" x2="88.00" y2="398.00" stroke="#e4e4e4" stroke-width="0.8" />
<line x1="103.00" y1="399.00" x2="103.00" y2="408.00" stroke="#e4e4e4" stroke-width="0.8" />
<line x1="115.80" y1="392.00" x2="115.80" y2="399.00" stroke="#e4e4e4" stroke-width="0.8" />
<line x1="120.00" y1="398.00" x2="120.00" y2="405.00" stroke="#e4e4e4" stroke-width="0.8" />
<line x1="76.00" y1="394.00" x2="76.00" y2="400.00" stroke="#e4e4e4" stroke-width="0.8" />
<polygon points="52.9,424.8 72,424.2 73,419.2 76,418.6 78,421 80,423 81.5,419.5 84,419 86,422 88,423.4 89.5,420 91,423 95,423.4 97,421 100,423.4 103,423 105,421.5 107,423 109,420.5 111,417.5 113,421 115,423.4 118,423.4 121,420 123,419.5 125,422.5 130,423.8 161,421.6 162.8,423.8 162.8,426.2 130,427.2 52.9,427.2" fill="#bc8f8f" stroke="#bc8f8f" stroke-width="0.6" stroke-linejoin="round"/>
<line x1="76.00" y1="411.00" x2="76.00" y2="421.00" stroke="#c9a3a3" stroke-width="0.8" />
<line x1="81.70" y1="412.00" x2="81.70" y2="421.00" stroke="#c9a3a3" stroke-width="0.8" />
<line x1="97.00" y1="415.00" x2="97.00" y2="421.00" stroke="#c9a3a3" stroke-width="0.8" />
<line x1="111.00" y1="410.00" x2="111.00" y2="421.00" stroke="#c9a3a3" stroke-width="0.8" />
<line x1="123.00" y1="414.00" x2="123.00" y2="421.00" stroke="#c9a3a3" stroke-width="0.8" />
<line x1="51.40" y1="378.00" x2="51.40" y2="394.00" stroke="#d4d4d4" stroke-width="1.2" />
<path d="M51.4 393.9L50.7 410.8L52.9 425.5" stroke="#bc8f8f" stroke-width="1.8" fill="none" stroke-linejoin="round"/>
<circle cx="50.70" cy="410.80" r="1.5" fill="#bc8f8f" />
<circle cx="52.90" cy="425.30" r="1.5" fill="#bc8f8f" />
<circle cx="51.40" cy="394.50" r="1.3" fill="#bc8f8f" />
<polygon points="161.5,424.5 167.3,384 170.2,384 164.5,424.5" fill="#bc8f8f" opacity="0.45"/>
<path d="M162.5 423.8L168.8 384.4" stroke="#bc8f8f" stroke-width="1.8" fill="none" />
<path d="M168.6 384.4L168.5 375.2" stroke="#c9a3a3" stroke-width="0.9" fill="none" />
<circle cx="168.80" cy="384.60" r="1.6" fill="#bc8f8f" />
<circle cx="169.60" cy="393.90" r="1.4" fill="#bc8f8f" />
<circle cx="162.30" cy="423.60" r="1.5" fill="#bc8f8f" />
<circle cx="170.20" cy="397.30" r="1.2" fill="#5b8fd6" />
<circle cx="169.70" cy="401.70" r="1.3" fill="#d4d4d4" />
<circle cx="51.4" cy="383.3" r="1.15" fill="#dce6d6" stroke="#5db83b" stroke-width="0.85"/>
<circle cx="51.4" cy="393.2" r="1.15" fill="#dce6d6" stroke="#5db83b" stroke-width="0.85"/>
<circle cx="73.6" cy="402" r="1.15" fill="#dce6d6" stroke="#5db83b" stroke-width="0.85"/>
<circle cx="76.1" cy="400.1" r="1.15" fill="#dce6d6" stroke="#5db83b" stroke-width="0.85"/>
<circle cx="78.6" cy="397.6" r="1.15" fill="#dce6d6" stroke="#5db83b" stroke-width="0.85"/>
<circle cx="81.7" cy="395.1" r="1.15" fill="#dce6d6" stroke="#5db83b" stroke-width="0.85"/>
<circle cx="84.3" cy="397" r="1.15" fill="#dce6d6" stroke="#5db83b" stroke-width="0.85"/>
<circle cx="88" cy="398.2" r="1.15" fill="#dce6d6" stroke="#5db83b" stroke-width="0.85"/>
<circle cx="89.9" cy="400.7" r="1.15" fill="#dce6d6" stroke="#5db83b" stroke-width="0.85"/>
<circle cx="85.5" cy="410.8" r="1.15" fill="#dce6d6" stroke="#5db83b" stroke-width="0.85"/>
<circle cx="78.6" cy="411.5" r="1.15" fill="#dce6d6" stroke="#5db83b" stroke-width="0.85"/>
<circle cx="72.3" cy="412.1" r="1.15" fill="#dce6d6" stroke="#5db83b" stroke-width="0.85"/>
<circle cx="72.3" cy="415.2" r="1.15" fill="#dce6d6" stroke="#5db83b" stroke-width="0.85"/>
<circle cx="75.4" cy="414" r="1.15" fill="#dce6d6" stroke="#5db83b" stroke-width="0.85"/>
<circle cx="90.6" cy="414.6" r="1.15" fill="#dce6d6" stroke="#5db83b" stroke-width="0.85"/>
<circle cx="93.1" cy="417.1" r="1.15" fill="#dce6d6" stroke="#5db83b" stroke-width="0.85"/>
<circle cx="96.2" cy="417.1" r="1.15" fill="#dce6d6" stroke="#5db83b" stroke-width="0.85"/>
<circle cx="94.3" cy="408.9" r="1.15" fill="#dce6d6" stroke="#5db83b" stroke-width="0.85"/>
<circle cx="96.9" cy="404.5" r="1.15" fill="#dce6d6" stroke="#5db83b" stroke-width="0.85"/>
<circle cx="99.4" cy="405.2" r="1.15" fill="#dce6d6" stroke="#5db83b" stroke-width="0.85"/>
<circle cx="102.5" cy="407.7" r="1.15" fill="#dce6d6" stroke="#5db83b" stroke-width="0.85"/>
<circle cx="104.4" cy="412.1" r="1.15" fill="#dce6d6" stroke="#5db83b" stroke-width="0.85"/>
<circle cx="106.9" cy="411.5" r="1.15" fill="#dce6d6" stroke="#5db83b" stroke-width="0.85"/>
<circle cx="103.8" cy="416.5" r="1.15" fill="#dce6d6" stroke="#5db83b" stroke-width="0.85"/>
<circle cx="110.7" cy="412.1" r="1.15" fill="#dce6d6" stroke="#5db83b" stroke-width="0.85"/>
<circle cx="112.6" cy="408.3" r="1.15" fill="#dce6d6" stroke="#5db83b" stroke-width="0.85"/>
<circle cx="115.8" cy="398.6" r="1.15" fill="#dce6d6" stroke="#5db83b" stroke-width="0.85"/>
<circle cx="118.3" cy="407" r="1.15" fill="#dce6d6" stroke="#5db83b" stroke-width="0.85"/>
<circle cx="120.8" cy="405.2" r="1.15" fill="#dce6d6" stroke="#5db83b" stroke-width="0.85"/>
<circle cx="123.3" cy="408.3" r="1.15" fill="#dce6d6" stroke="#5db83b" stroke-width="0.85"/>
<circle cx="124" cy="410.2" r="1.15" fill="#dce6d6" stroke="#5db83b" stroke-width="0.85"/>
<circle cx="113.2" cy="418.4" r="1.15" fill="#dce6d6" stroke="#5db83b" stroke-width="0.85"/>
<circle cx="120.2" cy="419" r="1.15" fill="#dce6d6" stroke="#5db83b" stroke-width="0.85"/>
<circle cx="121.4" cy="420.9" r="1.15" fill="#dce6d6" stroke="#5db83b" stroke-width="0.85"/>
<circle cx="124.6" cy="419" r="1.15" fill="#dce6d6" stroke="#5db83b" stroke-width="0.85"/>
<circle cx="114.5" cy="422.2" r="1.15" fill="#dce6d6" stroke="#5db83b" stroke-width="0.85"/>
<polygon points="208.5,412 227,423 227,426 208.5,419.5" fill="#d8d8d8" opacity="0.7"/>
<polygon points="280.6,423.8 320.5,413 322.3,423.5 280.6,426" fill="#bc8f8f" opacity="0.55"/>
<line x1="263.50" y1="398.00" x2="263.50" y2="424.80" stroke="#e4e4e4" stroke-width="0.8" />
<line x1="254.00" y1="407.00" x2="254.00" y2="424.00" stroke="#e4e4e4" stroke-width="0.8" />
<line x1="240.80" y1="412.00" x2="240.80" y2="419.00" stroke="#e4e4e4" stroke-width="0.8" />
<line x1="234.50" y1="414.00" x2="234.50" y2="421.00" stroke="#e4e4e4" stroke-width="0.8" />
<line x1="208.30" y1="392.00" x2="208.30" y2="400.00" stroke="#e4e4e4" stroke-width="0.8" />
<polygon points="211,419.8 227.5,424.6 233,424.4 234.9,421.6 237,423.6 239.5,421 240.8,418.6 242.2,421 244,424 252,424.4 254,422 256,423 257.5,421.2 259.5,424 276,424.4 280,423 281,423.8 322,421 322.8,423.5 281,426.4 227.5,426.8 211,421.8" fill="#bc8f8f" stroke="#bc8f8f" stroke-width="0.6" stroke-linejoin="round"/>
<path d="M208.3 399.7L208.2 413L211.2 420.6" stroke="#bc8f8f" stroke-width="2.0" fill="none" stroke-linejoin="round"/>
<circle cx="208.30" cy="401.00" r="1.5" fill="#bc8f8f" />
<circle cx="208.00" cy="407.00" r="1.5" fill="#bc8f8f" />
<circle cx="208.50" cy="413.00" r="1.5" fill="#bc8f8f" />
<circle cx="240.80" cy="418.90" r="1.4" fill="#bc8f8f" />
<circle cx="234.90" cy="421.80" r="1.2" fill="#bc8f8f" />
<polygon points="321,424 327.8,376 330.8,376 324.5,424" fill="#bc8f8f" opacity="0.45"/>
<path d="M322.3 422.5L329.3 376.5" stroke="#bc8f8f" stroke-width="1.8" fill="none" />
<path d="M329.3 376.5L329.3 368.5" stroke="#c9a3a3" stroke-width="0.9" fill="none" />
<circle cx="329.30" cy="379.00" r="1.5" fill="#bc8f8f" />
<circle cx="330.00" cy="387.90" r="1.4" fill="#bc8f8f" />
<circle cx="330.80" cy="397.40" r="1.4" fill="#bc8f8f" />
<circle cx="322.20" cy="422.30" r="1.5" fill="#bc8f8f" />
<circle cx="210.4" cy="404.1" r="1.15" fill="#dce6d6" stroke="#5db83b" stroke-width="0.85"/>
<circle cx="209.4" cy="418.9" r="1.15" fill="#dce6d6" stroke="#5db83b" stroke-width="0.85"/>
<circle cx="234.3" cy="419.8" r="1.15" fill="#dce6d6" stroke="#5db83b" stroke-width="0.85"/>
<circle cx="263.5" cy="416.2" r="1.15" fill="#dce6d6" stroke="#5db83b" stroke-width="0.85"/>
<circle cx="362.20" cy="354.30" r="3.2" fill="#5db83b" />
<circle cx="362.20" cy="369.50" r="3.2" fill="#6b90d0" />
<circle cx="362.20" cy="385.00" r="3.2" fill="#d9d9d9" />
<circle cx="362.20" cy="400.60" r="3.2" fill="#bc8f8f" />
<text x="373.70" y="357.30" font-size="10.0" text-anchor="start" textLength="117.90" lengthAdjust="spacingAndGlyphs" fill="#151515">Hypermethylated (tumour)</text>
<text x="373.70" y="372.40" font-size="10.0" text-anchor="start" textLength="115.00" lengthAdjust="spacingAndGlyphs" fill="#151515">Hypomethylated (tumour)</text>
<text x="373.00" y="388.00" font-size="10.0" text-anchor="start" textLength="110.10" lengthAdjust="spacingAndGlyphs" fill="#151515">Tumour methylation rate</text>
<text x="373.00" y="403.60" font-size="10.0" text-anchor="start" textLength="108.50" lengthAdjust="spacingAndGlyphs" fill="#151515">Normal methylation rate</text>
<rect x="356.7" y="413.1" width="11.6" height="8.7" fill="#f9b08a" stroke="#f4925c" stroke-width="0.8"/>
<text x="374.30" y="420.40" font-size="10.0" text-anchor="start" textLength="72.90" lengthAdjust="spacingAndGlyphs" fill="#151515">Promoter region</text>
<text x="373.70" y="437.00" font-size="10.0" text-anchor="start" textLength="102.40" lengthAdjust="spacingAndGlyphs" fill="#151515">Neoantigenic mutation</text>
<polygon points="362.20,432.40 363.05,434.24 365.05,434.47 363.57,435.84 363.96,437.83 362.20,436.84 360.44,437.83 360.83,435.84 359.35,434.47 361.35,434.24" fill="#c0272d"/>
<line x1="46.60" y1="437.20" x2="318.70" y2="466.60" stroke="#000" stroke-width="1.7" stroke-dasharray="1.7 2.4"/>
<line x1="345.40" y1="437.60" x2="333.80" y2="466.00" stroke="#000" stroke-width="1.7" stroke-dasharray="1.7 2.4"/>
<text x="327.30" y="446.30" font-size="10.0" text-anchor="middle" textLength="19.50" lengthAdjust="spacingAndGlyphs" fill="#151515">4 kb</text>
<path d="M318.7 448.4V452.1M318.7 450.3H332.6M332.6 448.4V452.1" stroke="#0a0a0a" stroke-width="1.2" fill="none" />
<text x="45.70" y="462.80" font-size="10.0" text-anchor="start" textLength="32.20" lengthAdjust="spacingAndGlyphs" fill="#151515">LAMB1</text>
<rect x="46.70" y="476.30" width="275.00" height="4.30" fill="#d5d5d5" />
<rect x="48.40" y="468.40" width="2.30" height="19.20" fill="#d5d5d5" />
<rect x="53.40" y="468.40" width="3.40" height="19.20" fill="#d5d5d5" />
<rect x="66.10" y="468.40" width="3.40" height="19.20" fill="#d5d5d5" />
<rect x="70.80" y="468.40" width="2.00" height="19.20" fill="#d5d5d5" />
<rect x="75.20" y="468.40" width="4.00" height="19.20" fill="#d5d5d5" />
<rect x="88.60" y="468.40" width="1.60" height="19.20" fill="#d5d5d5" />
<rect x="91.20" y="468.40" width="1.70" height="19.20" fill="#d5d5d5" />
<rect x="93.60" y="468.40" width="1.70" height="19.20" fill="#d5d5d5" />
<rect x="104.30" y="468.40" width="2.70" height="19.20" fill="#d5d5d5" />
<rect x="112.00" y="468.40" width="2.30" height="19.20" fill="#d5d5d5" />
<rect x="143.10" y="468.40" width="1.70" height="19.20" fill="#d5d5d5" />
<rect x="146.50" y="468.40" width="1.60" height="19.20" fill="#d5d5d5" />
<rect x="149.80" y="468.40" width="1.40" height="19.20" fill="#d5d5d5" />
<rect x="156.50" y="468.40" width="2.30" height="19.20" fill="#d5d5d5" />
<rect x="171.20" y="468.40" width="2.00" height="19.20" fill="#d5d5d5" />
<rect x="173.90" y="468.40" width="2.00" height="19.20" fill="#d5d5d5" />
<rect x="176.60" y="468.40" width="2.00" height="19.20" fill="#d5d5d5" />
<rect x="179.30" y="468.40" width="2.00" height="19.20" fill="#d5d5d5" />
<rect x="189.60" y="468.40" width="1.80" height="19.20" fill="#d5d5d5" />
<rect x="219.50" y="468.40" width="2.00" height="19.20" fill="#d5d5d5" />
<rect x="225.80" y="468.40" width="4.40" height="19.20" fill="#d5d5d5" />
<rect x="236.90" y="468.40" width="1.70" height="19.20" fill="#d5d5d5" />
<rect x="245.30" y="468.40" width="1.60" height="19.20" fill="#d5d5d5" />
<rect x="265.30" y="468.40" width="1.70" height="19.20" fill="#d5d5d5" />
<rect x="295.60" y="468.40" width="1.20" height="19.20" fill="#d5d5d5" />
<rect x="308.00" y="468.40" width="1.40" height="19.20" fill="#d5d5d5" />
<rect x="319.00" y="468.40" width="5.70" height="19.20" fill="#d5d5d5" />
<rect x="318.7" y="453.4" width="14.5" height="13.7" fill="#f9b08a" stroke="#f4925c" stroke-width="0.8"/>
<rect x="324.70" y="453.40" width="2.20" height="13.80" fill="#000" />
<line x1="325.80" y1="467.00" x2="325.80" y2="487.20" stroke="#0a0a0a" stroke-width="1.2" />
<polygon points="184.50,475.20 185.23,476.79 186.97,477.00 185.69,478.19 186.03,479.90 184.50,479.05 182.97,479.90 183.31,478.19 182.03,477.00 183.77,476.79" fill="#c0272d"/>
<polygon points="296.20,475.20 296.93,476.79 298.67,477.00 297.39,478.19 297.73,479.90 296.20,479.05 294.67,479.90 295.01,478.19 293.73,477.00 295.47,476.79" fill="#c0272d"/>
<text x="324.30" y="495.90" font-size="10.0" text-anchor="middle" textLength="18.10" lengthAdjust="spacingAndGlyphs" fill="#151515">TSS</text>
<line x1="45.10" y1="497.60" x2="334.00" y2="497.60" stroke="#0a0a0a" stroke-width="1.0" />
<line x1="85.40" y1="497.60" x2="85.40" y2="500.40" stroke="#0a0a0a" stroke-width="1.0" />
<text x="86.40" y="512.00" font-size="10.0" text-anchor="middle" textLength="35.60" lengthAdjust="spacingAndGlyphs" fill="#151515">107,575</text>
<line x1="173.20" y1="497.60" x2="173.20" y2="500.40" stroke="#0a0a0a" stroke-width="1.0" />
<text x="174.20" y="512.00" font-size="10.0" text-anchor="middle" textLength="35.60" lengthAdjust="spacingAndGlyphs" fill="#151515">107,600</text>
<line x1="260.60" y1="497.60" x2="260.60" y2="500.40" stroke="#0a0a0a" stroke-width="1.0" />
<text x="261.60" y="512.00" font-size="10.0" text-anchor="middle" textLength="35.60" lengthAdjust="spacingAndGlyphs" fill="#151515">107,625</text>
<text x="131.40" y="523.70" font-size="10.0" text-anchor="start" textLength="118.20" lengthAdjust="spacingAndGlyphs" fill="#151515">Chromosome position (kb)</text>
<text x="0.30" y="548.40" font-size="15.6" text-anchor="start" textLength="5.71" lengthAdjust="spacingAndGlyphs" fill="#000" font-weight="bold" class="b">f</text>
<text x="61.0" y="548.4" font-size="10" textLength="115.1" lengthAdjust="spacingAndGlyphs" fill="#1a1a1a">OR = 11.4; <tspan font-style="italic">P</tspan> = 1.6 × 10<tspan font-size="6.2" dy="-3.5">−4</tspan></text>
<path d="M79.7 560.1V553.0H154.1V560.1" stroke="#000" stroke-width="1.1" fill="none" />
<path d="M43.6 563.0V637.0" stroke="#0a0a0a" stroke-width="1.0" fill="none" />
<line x1="37.20" y1="580.69" x2="43.60" y2="580.69" stroke="#0a0a0a" stroke-width="1.0" />
<text x="34.70" y="583.69" font-size="10.0" text-anchor="end" textLength="11.34" lengthAdjust="spacingAndGlyphs" fill="#151515">60</text>
<line x1="37.20" y1="599.46" x2="43.60" y2="599.46" stroke="#0a0a0a" stroke-width="1.0" />
<text x="34.70" y="602.46" font-size="10.0" text-anchor="end" textLength="11.34" lengthAdjust="spacingAndGlyphs" fill="#151515">40</text>
<line x1="37.20" y1="618.23" x2="43.60" y2="618.23" stroke="#0a0a0a" stroke-width="1.0" />
<text x="34.70" y="621.23" font-size="10.0" text-anchor="end" textLength="11.34" lengthAdjust="spacingAndGlyphs" fill="#151515">20</text>
<line x1="37.20" y1="637.00" x2="43.60" y2="637.00" stroke="#0a0a0a" stroke-width="1.0" />
<text x="34.70" y="640.00" font-size="10.0" text-anchor="end" textLength="5.67" lengthAdjust="spacingAndGlyphs" fill="#151515">0</text>
<text x="12.40" y="605.50" font-size="10.0" text-anchor="middle" textLength="67.30" lengthAdjust="spacingAndGlyphs" fill="#151515" transform="rotate(-90 12.40 605.50)">Number of neo</text>
<rect x="54.20" y="581.63" width="24.30" height="55.37" fill="#a7b8aa" />
<text x="66.60" y="578.50" font-size="10.0" text-anchor="middle" textLength="11.34" lengthAdjust="spacingAndGlyphs" fill="#151515">59</text>
<rect x="83.30" y="620.11" width="24.30" height="16.89" fill="#a7b8aa" />
<text x="95.70" y="617.40" font-size="10.0" text-anchor="middle" textLength="11.34" lengthAdjust="spacingAndGlyphs" fill="#151515">18</text>
<rect x="126.90" y="566.61" width="24.30" height="70.39" fill="#1b4a2a" />
<text x="138.20" y="564.40" font-size="10.0" text-anchor="middle" textLength="11.34" lengthAdjust="spacingAndGlyphs" fill="#151515">75</text>
<rect x="155.30" y="635.12" width="24.30" height="1.88" fill="#1b4a2a" />
<text x="167.30" y="632.50" font-size="10.0" text-anchor="middle" textLength="5.67" lengthAdjust="spacingAndGlyphs" fill="#151515">2</text>
<text x="12.40" y="648.70" font-size="7.9" text-anchor="start" textLength="24.80" lengthAdjust="spacingAndGlyphs" fill="#151515">Hyper-</text>
<text x="12.40" y="658.30" font-size="7.9" text-anchor="start" textLength="44.30" lengthAdjust="spacingAndGlyphs" fill="#151515">methylation:</text>
<line x1="63.60" y1="651.60" x2="71.00" y2="651.60" stroke="#000" stroke-width="1.15" />
<line x1="92.20" y1="651.60" x2="99.20" y2="651.60" stroke="#000" stroke-width="1.15" />
<line x1="95.70" y1="648.10" x2="95.70" y2="655.10" stroke="#000" stroke-width="1.15" />
<line x1="134.50" y1="651.60" x2="141.90" y2="651.60" stroke="#000" stroke-width="1.15" />
<line x1="163.80" y1="651.60" x2="170.80" y2="651.60" stroke="#000" stroke-width="1.15" />
<line x1="167.30" y1="648.10" x2="167.30" y2="655.10" stroke="#000" stroke-width="1.15" />
<text x="84.20" y="671.70" font-size="10.0" text-anchor="middle" textLength="69.10" lengthAdjust="spacingAndGlyphs" fill="#151515">Non-expressed</text>
<text x="84.30" y="684.60" font-size="10.0" text-anchor="middle" textLength="16.60" lengthAdjust="spacingAndGlyphs" fill="#151515">neo</text>
<text x="154.10" y="671.70" font-size="10.0" text-anchor="middle" textLength="47.50" lengthAdjust="spacingAndGlyphs" fill="#151515">Expressed</text>
<text x="154.90" y="684.60" font-size="10.0" text-anchor="middle" textLength="16.60" lengthAdjust="spacingAndGlyphs" fill="#151515">neo</text>
<text x="190.60" y="547.40" font-size="15.6" text-anchor="start" textLength="10.00" lengthAdjust="spacingAndGlyphs" fill="#000" font-weight="bold" class="b">g</text>
<text x="215.0" y="548.4" font-size="10" textLength="89.7" lengthAdjust="spacingAndGlyphs" fill="#1a1a1a">OR = 2.3; <tspan font-style="italic">P</tspan> = 0.045</text>
<path d="M224.9 561.2V554.1H298.3V561.2" stroke="#000" stroke-width="1.1" fill="none" />
<rect x="200.80" y="581.63" width="24.30" height="55.37" fill="#a7b8aa" />
<text x="212.50" y="578.50" font-size="10.0" text-anchor="middle" textLength="11.34" lengthAdjust="spacingAndGlyphs" fill="#151515">59</text>
<rect x="228.60" y="620.11" width="24.30" height="16.89" fill="#a7b8aa" />
<text x="240.90" y="616.80" font-size="10.0" text-anchor="middle" textLength="11.34" lengthAdjust="spacingAndGlyphs" fill="#151515">18</text>
<rect x="272.80" y="571.70" width="24.30" height="65.30" fill="#d3d3d3" />
<text x="284.50" y="567.20" font-size="10.0" text-anchor="middle" textLength="11.34" lengthAdjust="spacingAndGlyphs" fill="#151515">68</text>
<rect x="301.80" y="628.55" width="24.30" height="8.45" fill="#d3d3d3" />
<text x="314.20" y="627.00" font-size="10.0" text-anchor="middle" textLength="5.67" lengthAdjust="spacingAndGlyphs" fill="#151515">9</text>
<line x1="211.70" y1="651.60" x2="219.10" y2="651.60" stroke="#000" stroke-width="1.15" />
<line x1="240.20" y1="651.60" x2="247.20" y2="651.60" stroke="#000" stroke-width="1.15" />
<line x1="243.70" y1="648.10" x2="243.70" y2="655.10" stroke="#000" stroke-width="1.15" />
<line x1="282.20" y1="651.60" x2="289.60" y2="651.60" stroke="#000" stroke-width="1.15" />
<line x1="311.10" y1="651.60" x2="318.10" y2="651.60" stroke="#000" stroke-width="1.15" />
<line x1="314.60" y1="648.10" x2="314.60" y2="655.10" stroke="#000" stroke-width="1.15" />
<text x="229.40" y="671.70" font-size="10.0" text-anchor="middle" textLength="69.10" lengthAdjust="spacingAndGlyphs" fill="#151515">Non-expressed</text>
<text x="229.50" y="684.60" font-size="10.0" text-anchor="middle" textLength="16.60" lengthAdjust="spacingAndGlyphs" fill="#151515">neo</text>
<text x="298.00" y="671.70" font-size="10.0" text-anchor="middle" textLength="59.40" lengthAdjust="spacingAndGlyphs" fill="#151515">Non-mutated</text>
<text x="298.60" y="684.60" font-size="10.0" text-anchor="middle" textLength="32.00" lengthAdjust="spacingAndGlyphs" fill="#151515">control</text>
<text x="334.00" y="548.40" font-size="15.6" text-anchor="start" textLength="9.53" lengthAdjust="spacingAndGlyphs" fill="#000" font-weight="bold" class="b">h</text>
<text x="355.6" y="548.4" font-size="10" textLength="89.3" lengthAdjust="spacingAndGlyphs" fill="#1a1a1a">OR = 0.48; <tspan font-style="italic">P</tspan> = 0.67</text>
<path d="M366.3 560.1V553.0H436.8V560.1" stroke="#000" stroke-width="1.1" fill="none" />
<rect x="340.50" y="566.61" width="24.30" height="70.39" fill="#1b4a2a" />
<text x="352.80" y="564.70" font-size="10.0" text-anchor="middle" textLength="11.34" lengthAdjust="spacingAndGlyphs" fill="#151515">75</text>
<rect x="369.50" y="635.12" width="24.30" height="1.88" fill="#1b4a2a" />
<text x="381.20" y="632.00" font-size="10.0" text-anchor="middle" textLength="5.67" lengthAdjust="spacingAndGlyphs" fill="#151515">2</text>
<rect x="409.30" y="568.49" width="24.30" height="68.51" fill="#d3d3d3" />
<text x="420.80" y="566.10" font-size="10.0" text-anchor="middle" textLength="11.34" lengthAdjust="spacingAndGlyphs" fill="#151515">73</text>
<rect x="437.90" y="633.25" width="24.30" height="3.75" fill="#d3d3d3" />
<text x="449.20" y="631.00" font-size="10.0" text-anchor="middle" textLength="5.67" lengthAdjust="spacingAndGlyphs" fill="#151515">4</text>
<line x1="348.40" y1="651.60" x2="355.80" y2="651.60" stroke="#000" stroke-width="1.15" />
<line x1="376.90" y1="651.60" x2="383.90" y2="651.60" stroke="#000" stroke-width="1.15" />
<line x1="380.40" y1="648.10" x2="380.40" y2="655.10" stroke="#000" stroke-width="1.15" />
<line x1="418.20" y1="651.60" x2="425.60" y2="651.60" stroke="#000" stroke-width="1.15" />
<line x1="447.50" y1="651.60" x2="454.50" y2="651.60" stroke="#000" stroke-width="1.15" />
<line x1="451.00" y1="648.10" x2="451.00" y2="655.10" stroke="#000" stroke-width="1.15" />
<text x="366.10" y="671.70" font-size="10.0" text-anchor="middle" textLength="47.80" lengthAdjust="spacingAndGlyphs" fill="#151515">Expressed</text>
<text x="366.30" y="684.60" font-size="10.0" text-anchor="middle" textLength="16.60" lengthAdjust="spacingAndGlyphs" fill="#151515">neo</text>
<text x="434.30" y="671.70" font-size="10.0" text-anchor="middle" textLength="60.20" lengthAdjust="spacingAndGlyphs" fill="#151515">Non-mutated</text>
<text x="434.30" y="684.60" font-size="10.0" text-anchor="middle" textLength="32.00" lengthAdjust="spacingAndGlyphs" fill="#151515">control</text>
</svg>
</body></html>
